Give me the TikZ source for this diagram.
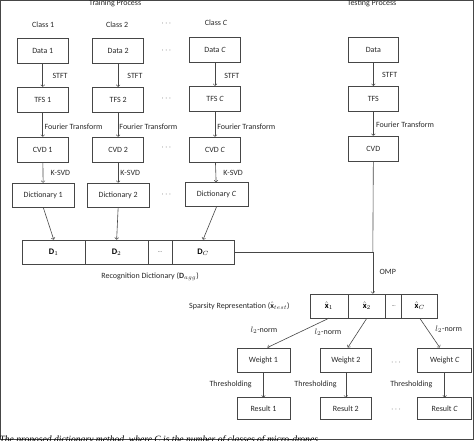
\documentclass[tikz,border=0pt]{standalone}
\usepackage{fontspec}
\usepackage{amsmath}
\setmainfont{Carlito}
\newfontfamily\capfont{Liberation Serif}
\usetikzlibrary{arrows,calc}
\definecolor{box_line}{RGB}{70, 70, 70}
\definecolor{txt_gray}{RGB}{40, 40, 40}
\tikzstyle{blk}=[rectangle,draw=box_line,line width=0.7pt,inner sep=0pt,
  minimum width=51pt,minimum height=25pt,font=\fontsize{8}{9}\selectfont,text=txt_gray]
\tikzstyle{cell}=[rectangle,draw=box_line,line width=0.7pt,inner sep=0pt,
  minimum height=24pt,font=\fontsize{8.5}{9}\selectfont]
\tikzstyle{lbl}=[inner sep=0pt,font=\fontsize{8}{9}\selectfont,text=txt_gray]
\tikzstyle{none}=[]

\begin{document}
\begin{tikzpicture}[x=1pt, y=-1pt, >=to, every path/.style={draw=box_line,line width=0.6pt}]
            \useasboundingbox (0, 0) rectangle (474, 440);
            % training process
            \node [style=lbl] (0) at (115, 3) {Training Process};
            \node [style=lbl] (1) at (372, 3) {Testing Process};
            \node [style=lbl] (2) at (43, 24) {Class 1};
            \node [style=lbl] (3) at (117, 24) {Class 2};
            \node [style=lbl] (4) at (216, 22) {Class \textit{C}};
            \node [style=blk] (5) at (42.5, 50.5) {Data 1};
            \node [style=blk] (6) at (118, 50.5) {Data 2};
            \node [style=blk] (7) at (215, 49.5) {Data \textit{C}};
            \node [style=blk] (8) at (373.5, 49.5) {Data};
            \node [style=blk] (9) at (42.5, 99.5) {TFS 1};
            \node [style=blk] (10) at (118, 99.5) {TFS 2};
            \node [style=blk] (11) at (215, 98.5) {TFS \textit{C}};
            \node [style=blk] (12) at (373.5, 98.5) {TFS};
            \node [style=blk] (13) at (42.5, 149.5) {CVD 1};
            \node [style=blk] (14) at (118, 149.5) {CVD 2};
            \node [style=blk] (15) at (215, 149.5) {CVD \textit{C}};
            \node [style=blk] (16) at (373.5, 148.5) {CVD};
            \node [style=blk, minimum width=62pt, minimum height=24pt] (17) at (43, 195) {Dictionary 1};
            \node [style=blk, minimum width=62pt, minimum height=24pt] (18) at (118, 195) {Dictionary 2};
            \node [style=blk, minimum width=63pt, minimum height=24pt] (19) at (216.5, 194.5) {Dictionary \textit{C}};
            \node [style=lbl] (20) at (167, 23) {$\cdots$};
            \node [style=lbl] (21) at (167, 50) {$\cdots$};
            \node [style=lbl] (22) at (167, 99) {$\cdots$};
            \node [style=lbl] (23) at (167, 148) {$\cdots$};
            \node [style=lbl] (24) at (167, 195) {$\cdots$};
            % recognition dictionary
            \node [style=cell, minimum width=63pt] (25) at (53.5, 252) {$\mathbf{D}_1$};
            \node [style=cell, minimum width=63pt] (26) at (116.5, 252) {$\mathbf{D}_2$};
            \node [style=cell, minimum width=24pt] (27) at (160, 252) {\tiny\ldots};
            \node [style=cell, minimum width=62pt] (28) at (203, 252) {$\mathbf{D}_C$};
            \node [style=lbl] (29) at (150, 277) {Recognition Dictionary ($\mathbf{D}_{agg}$)};
            \coordinate (30) at (373, 252);
            \node [style=lbl] (31) at (388, 272) {OMP};
            % sparsity representation
            \node [style=cell, minimum width=38pt] (32) at (329, 306) {$\hat{\mathbf{x}}_1$};
            \node [style=cell, minimum width=38pt] (33) at (367, 306) {$\hat{\mathbf{x}}_2$};
            \node [style=cell, minimum width=16pt] (34) at (394, 306) {\tiny\ldots};
            \node [style=cell, minimum width=36pt] (35) at (420, 306) {$\hat{\mathbf{x}}_C$};
            \node [style=lbl, anchor=east] (36) at (290, 306) {Sparsity Representation ($\hat{\mathbf{x}}_{test}$)};
            \node [style=blk, minimum width=53pt] (37) at (263.5, 360.5) {Weight 1};
            \node [style=blk, minimum width=52pt] (38) at (346, 360.5) {Weight 2};
            \node [style=blk, minimum width=54pt] (39) at (445, 360.5) {Weight \textit{C}};
            \node [style=blk, minimum width=53pt, minimum height=22pt] (40) at (263.5, 409) {Result 1};
            \node [style=blk, minimum width=52pt, minimum height=22pt] (41) at (346, 409) {Result 2};
            \node [style=blk, minimum width=54pt, minimum height=22pt] (42) at (445, 409) {Result \textit{C}};
            \node [style=lbl] (43) at (397, 363) {$\cdots$};
            \node [style=lbl] (44) at (397, 410) {$\cdots$};
            % edge labels
            \node [style=lbl, anchor=west] (45) at (52, 76) {STFT};
            \node [style=lbl, anchor=west] (46) at (127, 76) {STFT};
            \node [style=lbl, anchor=west] (47) at (224, 76) {STFT};
            \node [style=lbl, anchor=west] (48) at (382, 75) {STFT};
            \node [style=lbl, anchor=west] (49) at (44, 127) {Fourier Transform};
            \node [style=lbl, anchor=west] (50) at (119, 127) {Fourier Transform};
            \node [style=lbl, anchor=west] (51) at (217, 127) {Fourier Transform};
            \node [style=lbl, anchor=west] (52) at (376, 125) {Fourier Transform};
            \node [style=lbl, anchor=west] (53) at (50, 173) {K-SVD};
            \node [style=lbl, anchor=west] (54) at (120, 173) {K-SVD};
            \node [style=lbl, anchor=west] (55) at (223, 173) {K-SVD};
            \node [style=lbl] (56) at (264, 330) {$l_2$-norm};
            \node [style=lbl] (57) at (328, 332) {$l_2$-norm};
            \node [style=lbl] (58) at (449, 329) {$l_2$-norm};
            \node [style=lbl, anchor=east] (59) at (252, 385) {Thresholding};
            \node [style=lbl, anchor=east] (60) at (337, 385) {Thresholding};
            \node [style=lbl, anchor=east] (61) at (433, 385) {Thresholding};
            \node [style=none, anchor=base west, inner sep=0pt, font=\capfont\itshape\fontsize{9.6}{10}\selectfont] (62) at (-1, 442.5) {The proposed dictionary method, where \textit{C} is the number of classes of micro-drones.};
            \draw [->] (5) to (9);
            \draw [->] (6) to (10);
            \draw [->] (7) to (11);
            \draw [->] (8) to (12);
            \draw [->] (9) to (13);
            \draw [->] (10) to (14);
            \draw [->] (11) to (15);
            \draw [->] (12) to (16);
            \draw [->] (13) to (17);
            \draw [->] (14) to (18);
            \draw [->] (15) to (19);
            \draw [->] (17.south) to (25.north);
            \draw [->] (18.south) to (26.north);
            \draw [->] (19.south) to (28.north);
            \draw (16.south) to (30);
            \draw (28.east) to (30);
            \draw [->] (30) to (30 |- 33.north);
            \draw [->] (32.south) to ([xshift=4pt]37.north);
            \draw [->] (33.south) to ([xshift=2pt]38.north);
            \draw [->] (35.south) to ([xshift=-5pt]39.north);
            \draw [->] (37) to (40);
            \draw [->] (38) to (41);
            \draw [->] (39) to (42);
    \end{tikzpicture}
\end{document}
